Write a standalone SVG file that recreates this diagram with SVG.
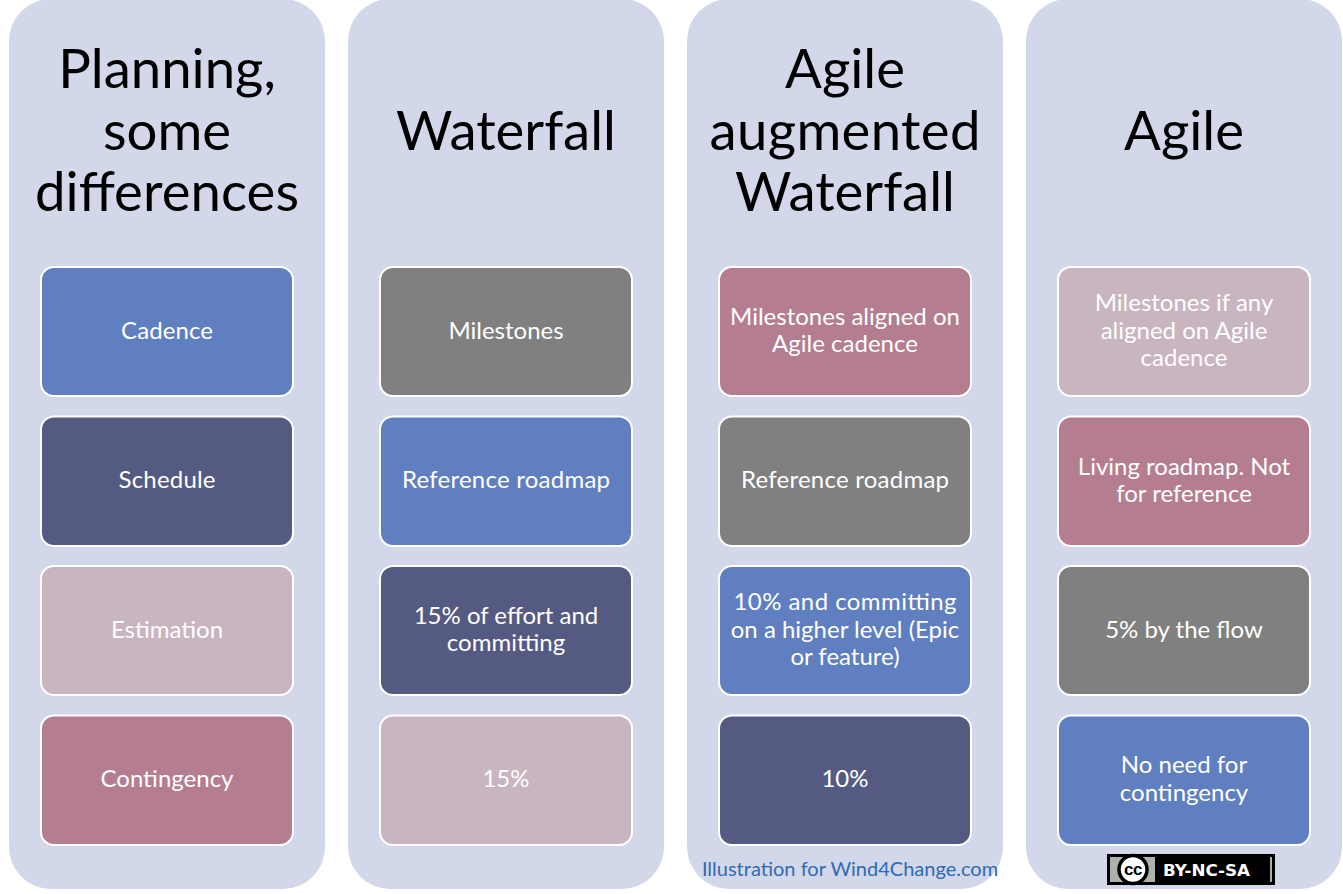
<svg xmlns="http://www.w3.org/2000/svg" width="1343" height="894" viewBox="0 0 1343 894">
<style>
text{font-family:"Lato","Open Sans","Liberation Sans",sans-serif;text-anchor:middle}
.p{fill:#d2d7ea}
.h{font-size:54.5px;fill:#000}
.c{stroke:#fff;stroke-width:2}
.t{font-size:24px;fill:#fff}
.a{fill:#5f7fc0}.b{fill:#555a82}.d{fill:#c9b5c0}.e{fill:#b57e90}.g{fill:#808080}
</style>
<rect width="1343" height="894" fill="#fff"/>
<g id="col1">
<rect class="p" x="9" y="-1" width="316" height="890" rx="42"/>
<text class="h" x="167" y="88">Planning,</text><text class="h" x="167" y="150">some</text><text class="h" x="167" y="211" textLength="264">differences</text>
</g>
<g id="col2">
<rect class="p" x="348" y="-1" width="316" height="890" rx="42"/>
<text class="h" x="506" y="150">Waterfall</text>
</g>
<g id="col3">
<rect class="p" x="687" y="-1" width="316" height="890" rx="42"/>
<text class="h" x="845" y="88">Agile</text><text class="h" x="845" y="150" textLength="271">augmented</text><text class="h" x="845" y="211">Waterfall</text>
<text x="850" y="876" font-size="20" fill="#2f6ab5">Illustration for Wind4Change.com</text>
</g>
<g id="col4">
<rect class="p" x="1026" y="-1" width="316" height="890" rx="42"/>
<text class="h" x="1184" y="150">Agile</text>
</g>
<g id="n11"><rect class="c a" x="41" y="267" width="252" height="129" rx="13"/><text class="t" x="167" y="339" textLength="92">Cadence</text></g>
<g id="n12"><rect class="c b" x="41" y="416.5" width="252" height="129.5" rx="13"/><text class="t" x="167" y="488" textLength="97">Schedule</text></g>
<g id="n13"><rect class="c d" x="41" y="566" width="252" height="129" rx="13"/><text class="t" x="167" y="638">Estimation</text></g>
<g id="n14"><rect class="c e" x="41" y="715.5" width="252" height="129.5" rx="13"/><text class="t" x="167" y="787">Contingency</text></g>
<g id="n21"><rect class="c g" x="380" y="267" width="252" height="129" rx="13"/><text class="t" x="506" y="339">Milestones</text></g>
<g id="n22"><rect class="c a" x="380" y="416.5" width="252" height="129.5" rx="13"/><text class="t" x="506" y="488" textLength="208">Reference roadmap</text></g>
<g id="n23"><rect class="c b" x="380" y="566" width="252" height="129" rx="13"/><text class="t" x="506" y="624">15% of effort and</text><text class="t" x="506" y="651">committing</text></g>
<g id="n24"><rect class="c d" x="380" y="715.5" width="252" height="129.5" rx="13"/><text class="t" x="506" y="787">15%</text></g>
<g id="n31"><rect class="c e" x="719" y="267" width="252" height="129" rx="13"/><text class="t" x="845" y="325">Milestones aligned on</text><text class="t" x="845" y="352">Agile cadence</text></g>
<g id="n32"><rect class="c g" x="719" y="416.5" width="252" height="129.5" rx="13"/><text class="t" x="845" y="488" textLength="208">Reference roadmap</text></g>
<g id="n33"><rect class="c a" x="719" y="566" width="252" height="129" rx="13"/><text class="t" x="845" y="610" textLength="223">10% and committing</text><text class="t" x="845" y="638">on a higher level (Epic</text><text class="t" x="845" y="665">or feature)</text></g>
<g id="n34"><rect class="c b" x="719" y="715.5" width="252" height="129.5" rx="13"/><text class="t" x="845" y="787">10%</text></g>
<g id="n41"><rect class="c d" x="1058" y="267" width="252" height="129" rx="13"/><text class="t" x="1184" y="311">Milestones if any</text><text class="t" x="1184" y="339">aligned on Agile</text><text class="t" x="1184" y="366">cadence</text></g>
<g id="n42"><rect class="c e" x="1058" y="416.5" width="252" height="129.5" rx="13"/><text class="t" x="1184" y="475">Living roadmap. Not</text><text class="t" x="1184" y="502">for reference</text></g>
<g id="n43"><rect class="c g" x="1058" y="566" width="252" height="129" rx="13"/><text class="t" x="1184" y="638">5% by the flow</text></g>
<g id="n44"><rect class="c a" x="1058" y="715.5" width="252" height="129.5" rx="13"/><text class="t" x="1184" y="773">No need for</text><text class="t" x="1184" y="801">contingency</text></g>
<g id="cc-badge">
<rect x="1107" y="854" width="168" height="31" fill="#000"/>
<rect x="1110" y="857" width="162" height="25" fill="#aab2ab"/>
<rect x="1155" y="857" width="115" height="25" fill="#000"/>
<circle cx="1133" cy="869.5" r="14" fill="#fff" stroke="#000" stroke-width="3.5"/>
<text x="1133" y="875" style="font-family:'Liberation Sans',sans-serif;font-weight:bold;font-size:17px;letter-spacing:-.5px">cc</text>
<text x="1206.5" y="875.5" style="font-family:'DejaVu Sans',sans-serif;font-weight:bold;font-size:15.5px" fill="#fff" textLength="87" lengthAdjust="spacingAndGlyphs">BY-NC-SA</text>
</g>
<g id="connectors"/>
</svg>
